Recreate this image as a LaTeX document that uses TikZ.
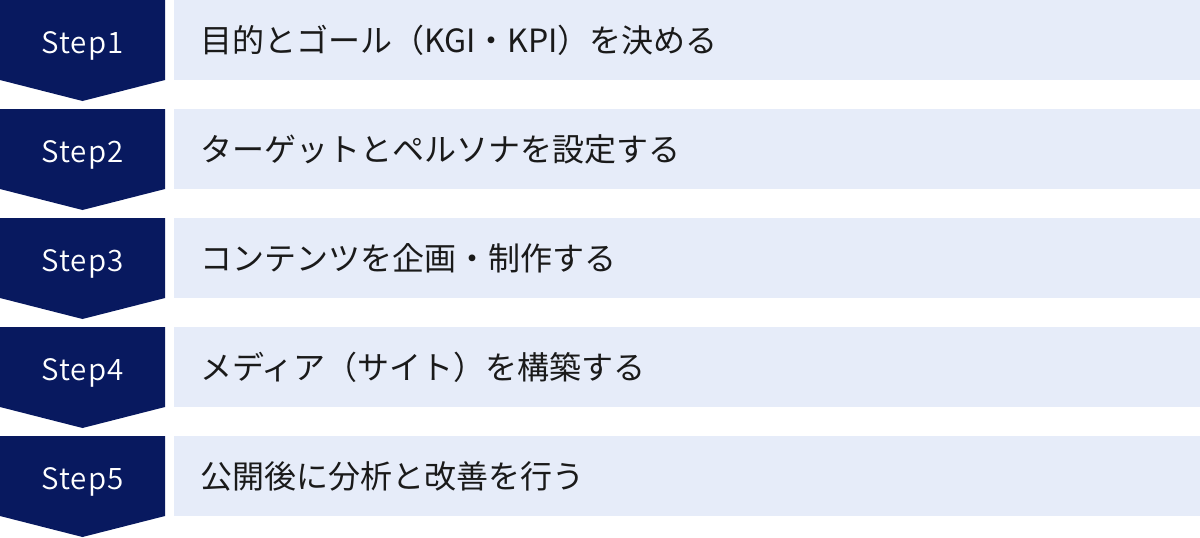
\documentclass[tikz,border=0pt]{standalone}
\usepackage{fontspec}
\setmainfont{Noto Sans CJK JP}
\newfontfamily\steplight[LetterSpace=4]{Noto Sans CJK JP DemiLight}
\definecolor{navy}{HTML}{08195F}
\definecolor{pale}{HTML}{E6ECF9}
\definecolor{ink}{HTML}{1A1A1A}
\tikzset{
  chev/.style={fill=navy, draw=none},
  stepbox/.style={fill=pale, draw=none, anchor=north west, minimum width=1026pt, minimum height=80pt, inner sep=0pt, outer sep=0pt},
  steplabel/.style={text=white, font=\steplight\fontsize{29.5}{30}\selectfont, anchor=base, inner sep=0pt},
  steptext/.style={text=ink, font=\fontsize{32}{34}\selectfont, anchor=base west, inner sep=0pt}
}
\begin{document}
\begin{tikzpicture}[x=1pt,y=-1pt]
\useasboundingbox (0,0) rectangle (1200,538);
\foreach \i/\txt in {1/{目的とゴール（KGI・KPI）を決める},2/{ターゲットとペルソナを設定する},3/{コンテンツを企画・制作する},4/{メディア（サイト）を構築する},5/{公開後に分析と改善を行う}}{
  \pgfmathsetmacro{\t}{109*(\i-1)}
  \fill[chev] (0,\t) -- (165,\t) -- (165,\t+80) -- (82.5,\t+101) -- (0,\t+80) -- cycle;
  \node[steplabel] (step\i) at (82.5,\t+53) {Step\i};
  \node[stepbox] (box\i) at (174,\t) {};
  \node[steptext] (text\i) at (200,\t+52) {\txt};
}
\end{tikzpicture}
\end{document}
